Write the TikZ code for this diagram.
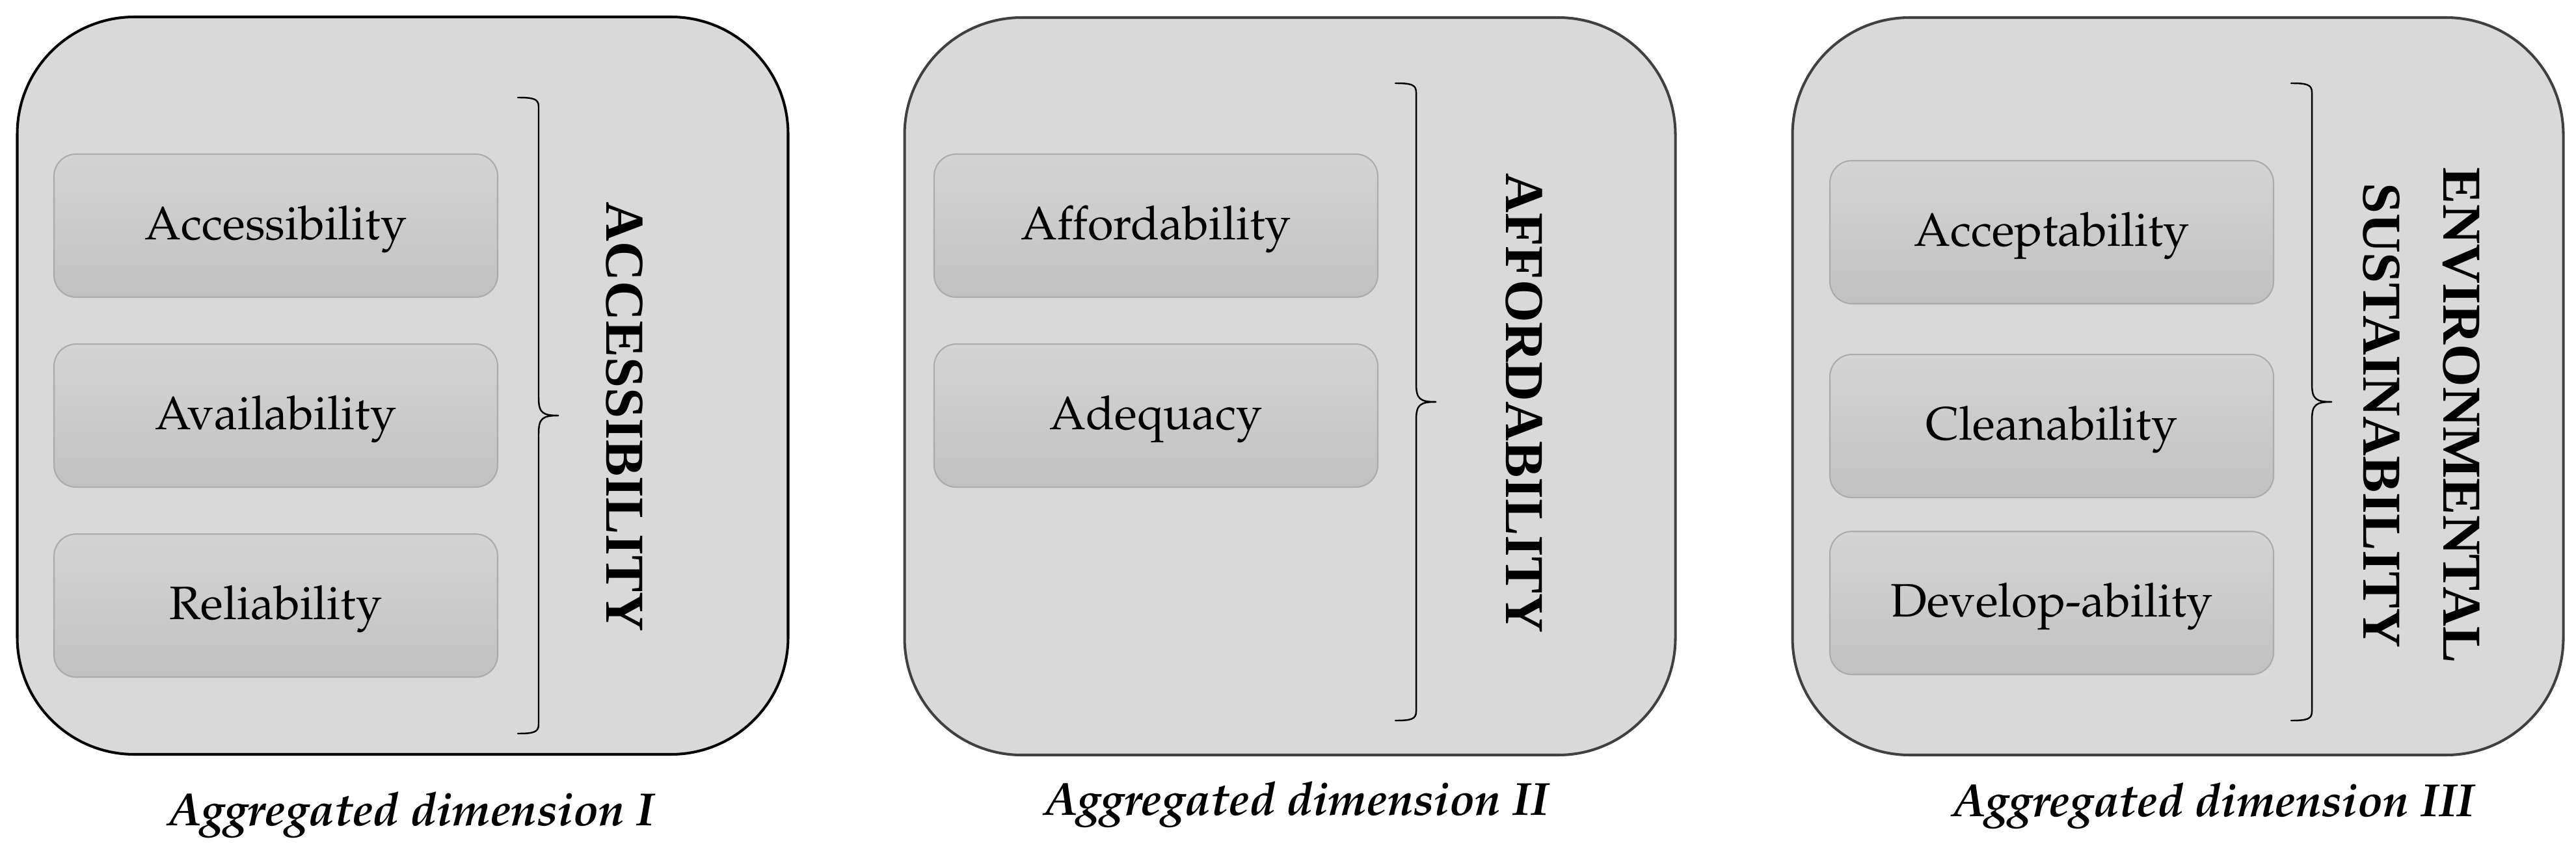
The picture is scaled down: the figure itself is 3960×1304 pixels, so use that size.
\documentclass[tikz,border=0pt]{standalone}
\usepackage{fontspec}
\newfontfamily\capsfont{Liberation Serif}
\usepackage[T1]{fontenc}
\usepackage{mathpazo}
\usetikzlibrary{positioning}

\definecolor{panelfill}{HTML}{D9D9D9}
\definecolor{panelline}{HTML}{404040}
\definecolor{itemline}{HTML}{ABABAB}
\definecolor{itemtop}{HTML}{D4D4D4}
\definecolor{itembot}{HTML}{C1C1C1}

\begin{document}
\begin{tikzpicture}[x=0.1mm, y=-0.1mm,
node distance=7mm,
    panel/.style = {rectangle, rounded corners=18mm, fill=panelfill,% big boxes
                    line width=1.15pt, minimum width=118.5mm, minimum height=113.4mm,
                    outer sep=0pt},
     item/.style = {rectangle, rounded corners=3.4mm, draw=itemline,% small boxes
                    line width=0.6pt, top color=itemtop, bottom color=itembot,
                    minimum width=68.2mm, minimum height=22mm, inner sep=0pt,
                    text height=12pt, text depth=0pt,
                    font=\fontsize{20.5}{23}\selectfont},
 dimlabel/.style = {rotate=-90, inner sep=0pt, align=center,
                    font=\capsfont\bfseries\fontsize{24}{35}\selectfont},
   aggcap/.style = {anchor=base, inner sep=0pt,
                    font=\fontsize{20.3}{24}\selectfont\bfseries\itshape},
  bracket/.style = {line width=0.7pt, line cap=round},
                        ]
\useasboundingbox (0,0) rectangle (3960,1304);
% panels
\node[panel, draw=black]      (P1) at (619,593) {};
\node[panel, draw=panelline]  (P2) at (1983,594) {};
\node[panel, draw=panelline]  (P3) at (3348,594) {};
% dimension I
\node[item] (A1) at (424,347) {Accessibility};
\node[item, below=of A1] (A2) {Availability};
\node[item, below=of A2] (A3) {Reliability};
% dimension II
\node[item] (B1) at (1777,347) {Affordability};
\node[item, below=of B1] (B2) {Adequacy};
% dimension III
\node[item] (C1) at (3154,357) {Acceptability};
\node[item, below=7.6mm of C1] (C2) {Cleanability};
\node[item, below=5mm of C2] (C3) {Develop-ability};
% braces: x of stem / top / bottom / tip
\foreach \bx/\by/\ey/\ty in {828/150/1128/639, 2177/128/1108/618, 3554/128/1108/618}
    \draw[bracket] (\bx-32,\by) .. controls (\bx-8,\by) and (\bx,\by+2) .. (\bx,\by+14)
        -- (\bx,\ty-28) .. controls (\bx,\ty-4) and (\bx+6,\ty) .. (\bx+31,\ty)
        .. controls (\bx+6,\ty) and (\bx,\ty+4) .. (\bx,\ty+28)
        -- (\bx,\ey-14) .. controls (\bx,\ey-2) and (\bx-8,\ey) .. (\bx-32,\ey);
% labels
\node[dimlabel] (L1) at (960,641) {ACCESSIBILITY};
\node[dimlabel] (L2) at (2343,620) {AFFORDABILITY};
\node[dimlabel] (L3) at (3722,639) {ENVIRONMENTAL\\SUSTAINABILITY};
% captions
\node[aggcap] (D1) at (632,1269) {Aggregated dimension I};
\node[aggcap] (D2) at (1993,1253) {Aggregated dimension II};
\node[aggcap] (D3) at (3403,1255) {Aggregated dimension III};
\end{tikzpicture}
\end{document}
